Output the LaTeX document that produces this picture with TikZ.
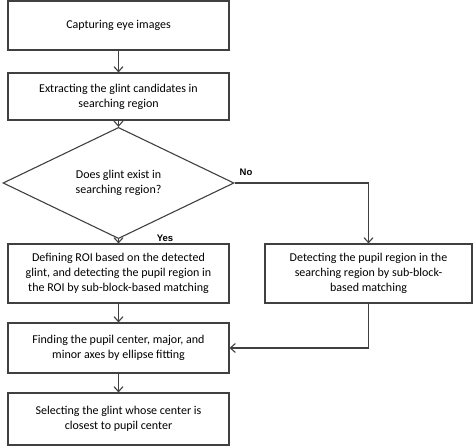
\documentclass[tikz,border=0pt]{standalone}
\usepackage{fontspec}
\setmainfont{Carlito}
\newfontfamily\lblfont{Liberation Sans}
\usepackage{xcolor}
\usepackage{tikz}
\usetikzlibrary{shapes.geometric,arrows.meta,positioning}

\definecolor{linegray}{RGB}{64,64,64}

\begin{document}
\begin{tikzpicture}[
  x=1pt, y=-1pt,
  stepbox/.style={draw=linegray, line width=1.1pt, minimum width=221pt, align=center, inner sep=2pt, font=\fontsize{12}{15}\selectfont},
  sidebox/.style={stepbox, minimum width=207pt},
  query/.style={draw=linegray, line width=1.1pt, diamond, minimum width=231pt, minimum height=86pt, inner sep=0pt, align=center, font=\fontsize{12}{15}\selectfont},
  flow/.style={draw=linegray, line width=1.1pt, -{Straight Barb[length=5pt,width=9pt]}},
  yn/.style={font=\lblfont\bfseries\fontsize{9.5}{11}\selectfont},
]

\useasboundingbox (0,0) rectangle (474,446);

\def\colx{118.5}

% --- main column ---
\node[stepbox, minimum height=49pt] (capture) at (\colx,25.5) {Capturing eye images};
\node[stepbox, minimum height=47pt] (extract) at (\colx,96.5) {Extracting the glint candidates in\\searching region};
\node[query] (exist) at (\colx,183) {Does glint exist in\\searching region?};
\node[stepbox, minimum height=59pt] (roi) at (\colx,273.5) {Defining ROI based on the detected\\glint, and detecting the pupil region in\\the ROI by sub-block-based matching};
\node[stepbox, minimum height=50pt] (fit) at (\colx,348) {Finding the pupil center, major, and\\minor axes by ellipse fitting};
\node[stepbox, minimum height=52pt] (select) at (\colx,419) {Selecting the glint whose center is\\closest to pupil center};

% --- side branch ---
\node[sidebox, minimum height=59pt] (search) at (368.5,273.5) {Detecting the pupil region in the\\searching region by sub-block-\\based matching};

% --- connectors ---
\draw[flow] (capture) -- (extract);
\draw[flow] (extract) -- (exist);
\draw[flow] (exist) -- (roi);
\draw[flow] (roi) -- (fit);
\draw[flow] (fit) -- (select);
\draw[flow] (exist.east) -| (search.north);
\draw[flow] (search.south) |- (fit.east);

% --- labels ---
\node[yn] (yes) at (165,238) {Yes};
\node[yn] (no) at (246,172) {No};

\end{tikzpicture}
\end{document}
